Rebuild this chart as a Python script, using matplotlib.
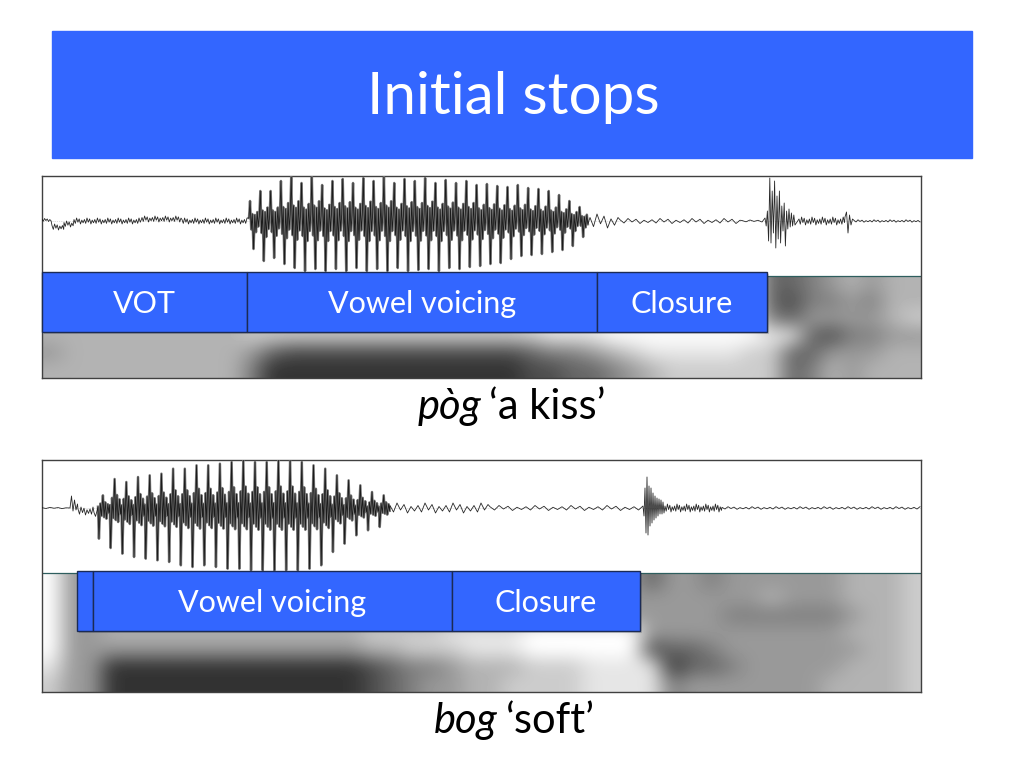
import numpy as np
import matplotlib
matplotlib.use('Agg')
from matplotlib import pyplot as plt
from matplotlib.patches import Rectangle

plt.rcParams['font.family'] = ['Lato', 'DejaVu Sans']

BLUE = '#3366ff'
EDGE = '#1b2b55'

# ---------- data (time unit = ms, amplitude unit = % of scale) ----------
title = 'Initial stops'

# pòg 'a kiss'
pog_word, pog_gloss = 'pòg', '‘a kiss’'
pog_labels = ['VOT', 'Vowel voicing', 'Closure']
pog_bounds = [0, 205, 555, 725]
pog_voice_start = 207
pog_period = 10.3
pog_up = [20, 30, 30, 40, 44, 38, 44, 36, 40, 42, 38, 43, 40, 44, 38, 42, 40,
          43, 38, 41, 38, 40, 36, 37, 35, 34, 36, 33, 32, 30, 26, 20, 14]
pog_down = [28, 40, 37, 43, 47, 50, 48, 50, 48, 50, 47, 50, 48, 50, 47, 50, 49,
            48, 50, 47, 48, 46, 45, 43, 42, 38, 35, 34, 33, 31, 29, 25, 16]
pog_shape_t = [0.0, 0.1, 0.22, 0.32, 0.44, 0.56, 0.68, 0.8, 0.9]
pog_shape_v = [0.15, 1.0, -0.3, 0.35, -1.0, 0.3, -0.4, 0.45, -0.2]
# noise stretches: start, end, amplitude, offset, step
pog_noise = [(0, 10, 1.5, 1, 1.3), (10, 22, 3, -6, 1.3), (22, 32, 3, -3, 1.3),
             (32, 100, 3, 0, 1.3), (100, 140, 3, 2, 1.3), (140, 206, 3, 0, 1.3),
             (548, 578, 7, 0, 3.5), (578, 700, 2.5, 0, 4), (700, 723, 1, 0, 4),
             (757, 803, 4, 0, 1.3), (812, 879, 1.2, 0, 2)]
# explicit bursts: start, step, values
pog_bursts = [(723, 1.2, [3, -5, 10, -20, 43, -22, 30, -12, 40, -27, 25, -18, 30,
                          -22, 15, -10, 18, -25, 10, -8, 12, -6, 8, -5, 6, -4]),
              (803, 1.5, [4, 9, -12, 6, -4, 2])]
# spectrogram darkness 0-9, rows top (high freq) to bottom, 20 ms columns
pog_spec = [
    "33333333333333333333333311111111111166543433",
    "33333333333333333333333311111111111167554533",
    "33333333333333333333333311111111111156444432",
    "33333333332222222222222221110000000011675544",
    "43333333334677777777777765543211111226644433",
    "33333333335888888888888877665432222226534333",
]

# bog 'soft'
bog_word, bog_gloss = 'bog', '‘soft’'
bog_labels = ['', 'Vowel voicing', 'Closure']
bog_bounds = [35, 51, 410, 598]
bog_voice_start = 56
bog_period = 11.7
bog_up = [12.7, 29, 26, 31, 32.7, 34.3, 39.3, 39.3, 42.7, 42.7, 44.3, 46, 47.7,
          46, 46, 47.7, 47.7, 46, 42.7, 39.3, 32.7, 27.7, 22.7, 16, 12.7]
bog_down = [30.7, 40, 45.7, 49, 50.7, 52.3, 54, 57.3, 59, 57.3, 59, 60.7, 60.7,
            62.3, 62.3, 62.3, 62.3, 62.3, 60.7, 57.3, 44, 35.7, 27.3, 22.3, 19]
bog_shape_t = [0.0, 0.08, 0.2, 0.3, 0.42, 0.52, 0.62, 0.72, 0.84, 0.93]
bog_shape_v = [0.1, -1.0, 0.35, -0.25, 1.0, -0.3, 0.45, -0.35, 0.3, -0.15]
bog_noise = [(0, 28, 0.6, 0, 4), (36, 52, 4, -3, 1.5), (52, 56, 3, -6, 1.5),
             (348, 448, 5, 0, 3.5), (448, 600, 2.5, 0, 4.5),
             (623, 680, 4, 0, 1.2), (680, 879, 1.3, 0, 3)]
bog_bursts = [(28, 1.5, [0, 12, -3, 8, -2, 4]),
              (601, 1.0, [2, -8, 20, -25, 31, -27, 22, -18, 20, -15, 15, -12,
                          12, -10, 10, -8, 9, -6, 8, -6, 6, -5])]
bog_spec = [
    "04444444444444444444444444444464454444443332",
    "04444444444444444444444444444444444434443332",
    "04444444444444444444444444444444445555554332",
    "04433333333333332222111100000044444444443332",
    "04444444444444443322211100000076654444444332",
    "14488888888888887655433322211118665444443332",
    "24488888888888887654433222211115444444433332",
]

ripple = [0.5, -0.8, 1.0, -0.4, 0.7, -1.0, 0.3, -0.6]


def waveform(start, period, ups, downs, shape_t, shape_v, noise, bursts):
    vx, vy = [], []
    for i, (u, d) in enumerate(zip(ups, downs)):
        t0 = start + i * period
        for f, v in zip(shape_t, shape_v):
            vx.append(t0 + f * period)
            vy.append(v * u if v > 0 else v * d)
    ax_, ay_ = list(vx), list(vy)
    for s, e, amp, off, step in noise:
        xs = np.arange(s, e, step)
        ax_ += list(xs)
        ay_ += [off + amp * ripple[k % len(ripple)] for k in range(len(xs))]
    for s, step, vals in bursts:
        ax_ += [s + step * k for k in range(len(vals))]
        ay_ += vals
    order = np.argsort(ax_)
    return np.array(vx), np.array(vy), np.array(ax_)[order], np.array(ay_)[order]


fig = plt.figure(figsize=(10.24, 7.68), dpi=100)
W, H = 1024, 768

fig.add_artist(Rectangle((52 / W, 1 - 158 / H), 920 / W, 127 / H,
                         transform=fig.transFigure, color=BLUE, zorder=0))
fig.text(513 / W, 1 - 97 / H, title, color='white', fontsize=42,
         ha='center', va='center')


def panel(top, bottom, split, box_top, box_bot, center, word, gloss, cap_y, cap_x,
          labels, bounds, start, period, ups, downs, st, sv, noise, bursts, spec):
    ax = fig.add_axes([42 / W, 1 - bottom / H, 879 / W, (bottom - top) / H])
    hgt = bottom - top
    ax.set_xlim(0, 879)
    ax.set_ylim(0, hgt)
    ax.set_xticks([])
    ax.set_yticks([])
    for sp in ax.spines.values():
        sp.set_color('#404040')
        sp.set_linewidth(1.0)

    grid = np.array([[int(c) for c in row] for row in spec])
    ax.imshow(grid, cmap='gray_r', vmin=0, vmax=10, aspect='auto',
              interpolation='bicubic', extent=[0, 880, 0, bottom - split], zorder=1)
    ax.axhline(bottom - split, color='#2e5e5e', lw=0.9, zorder=2)

    vx, vy, x, y = waveform(start, period, ups, downs, st, sv, noise, bursts)
    c = bottom - center
    ax.axhline(c, color='#bbbbbb', lw=0.5, ls=':', zorder=2)
    ax.plot(vx, c + vy, color='#7a7a7a', lw=1.8, zorder=3)
    ax.plot(x, c + y, color='#111111', lw=0.6, alpha=0.9, zorder=3)

    y0, y1 = bottom - box_bot, bottom - box_top
    for lab, a, b in zip(labels, bounds[:-1], bounds[1:]):
        ax.add_patch(Rectangle((a + 2, y0 - 2), b - a, y1 - y0, facecolor='#000000',
                               alpha=0.15, lw=0, zorder=4, clip_on=False))
        ax.add_patch(Rectangle((a, y0), b - a, y1 - y0, facecolor=BLUE,
                               edgecolor=EDGE, lw=1.0, zorder=5, clip_on=False))
        ax.text((a + b) / 2, (y0 + y1) / 2 - 2, lab, color='white', fontsize=22,
                ha='center', va='center', zorder=6)

    fig.text((cap_x - 3) / W, 1 - cap_y / H, word, fontsize=30, style='italic',
             ha='right', va='center')
    fig.text((cap_x + 5) / W, 1 - cap_y / H, gloss, fontsize=30, ha='left', va='center')


panel(176, 378, 276, 272, 332, 221, pog_word, pog_gloss, 407, 484,
      pog_labels, pog_bounds, pog_voice_start, pog_period, pog_up, pog_down,
      pog_shape_t, pog_shape_v, pog_noise, pog_bursts, pog_spec)
panel(460, 692, 573, 571, 631, 508, bog_word, bog_gloss, 721, 501,
      bog_labels, bog_bounds, bog_voice_start, bog_period, bog_up, bog_down,
      bog_shape_t, bog_shape_v, bog_noise, bog_bursts, bog_spec)

fig.savefig('out.png', dpi=100)
